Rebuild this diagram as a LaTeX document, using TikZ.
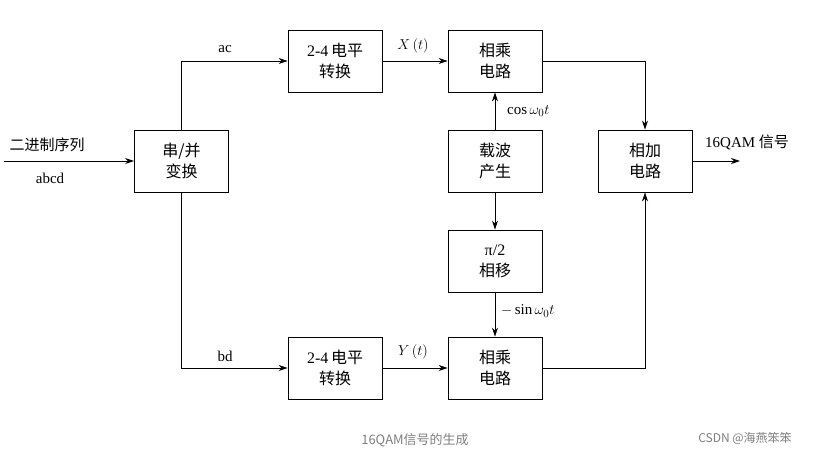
\documentclass[tikz,border=0pt]{standalone}
\usepackage{fontspec}
\setmainfont{Liberation Serif}
\newfontfamily\cjk{Noto Sans CJK SC}
\newfontfamily\lser{Liberation Serif}
\usetikzlibrary{arrows.meta}
\begin{document}
\begin{tikzpicture}[x=1pt,y=-1pt,
  box/.style={draw,line width=0.9pt,minimum width=94pt,minimum height=62pt,align=center,font=\cjk\fontsize{16}{21}\selectfont,inner sep=0},
  lbl/.style={font=\fontsize{15}{18}\selectfont,inner sep=1pt},
  ar/.style={line width=0.9pt,-{Stealth[length=9pt,width=6pt]}},
  ln/.style={line width=0.9pt}]
\useasboundingbox[fill=white] (0,0) rectangle (827,456);
\node[box] (sp) at (181.5,161) {串/并\\变换};
\node[box] (l1) at (335,61) {{\lser 2-4}\,电平\\转换};
\node[box] (m1) at (495,61) {相乘\\电路};
\node[box] (cg) at (495,161) {载波\\产生};
\node[box] (ph) at (495,261) {{\lser π/2}\\相移};
\node[box] (m2) at (495,368) {相乘\\电路};
\node[box] (l2) at (335,368) {{\lser 2-4}\,电平\\转换};
\node[box] (ad) at (645,161) {相加\\电路};
\coordinate (in) at (4,161);
\coordinate (out) at (740,161);
\draw[ar] (in) -- (sp);
\node[lbl,font=\cjk\fontsize{15}{18}\selectfont] (t1) at (47,145) {二进制序列};
\node[lbl] (t2) at (50,178) {abcd};
\draw[ar] (sp.north) |- (l1.west);
\draw[ar] (sp.south) |- (l2.west);
\node[lbl] (ac) at (225,49) {ac};
\node[lbl] (bd) at (225,356) {bd};
\draw[ar] (l1) -- (m1);
\draw[ar] (l2) -- (m2);
\node[lbl] (xt) at (413,46) {$X\,(t)$};
\node[lbl] (yt) at (413,352) {$Y\,(t)$};
\draw[ar] (cg) -- (m1);
\draw[ar] (cg) -- (ph);
\draw[ar] (ph) -- (m2);
\node[lbl,anchor=west] (cs) at (506,111) {$\cos\omega_0 t$};
\node[lbl,anchor=west] (sn) at (500,311) {$-\sin\omega_0 t$};
\draw[ar] (m1.east) -| (ad.north);
\draw[ar] (m2.east) -| (ad.south);
\draw[ar] (ad) -- (out);
\node[lbl,anchor=west] (o) at (704,142) {16QAM {\cjk 信号}};
\node[font=\cjk\fontsize{13}{15}\selectfont,text=gray] (c1) at (415,440) {16QAM信号的生成};
\node[font=\cjk\fontsize{12}{15}\selectfont,text=gray] (c2) at (745,438) {CSDN @海燕笨笨};
\end{tikzpicture}
\end{document}
